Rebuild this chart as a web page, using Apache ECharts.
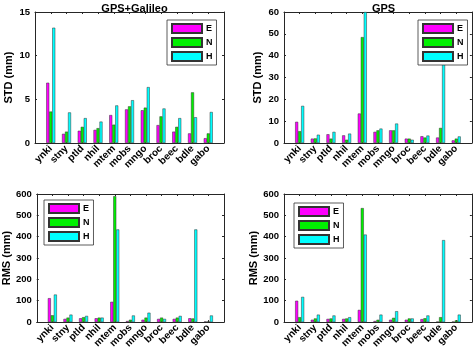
<!DOCTYPE html>
<html>
<head>
<meta charset="utf-8">
<script src="https://cdn.jsdelivr.net/npm/echarts@6/dist/echarts.min.js"></script>
<style>
  html, body { margin: 0; padding: 0; background: #fff; }
  #chart { width: 474px; height: 351px; }
</style>
</head>
<body>
<div id="chart"></div>
<script>
// stations on the x axis (placed at 1..11, axis runs 0..12 like matlab)
const stations = ['ynki', 'stny', 'ptld', 'nhil', 'mtem', 'mobs', 'mngo', 'broc', 'beec', 'bdle', 'gabo'];

// STD (mm), GPS+Galileo
const stdGalE = [6.9, 1.05, 1.4, 1.5, 3.2, 3.85, 3.75, 2.05, 1.3, 1.1, 0.55];
const stdGalN = [3.6, 1.3, 1.85, 1.7, 2.1, 4.2, 4.05, 3.05, 1.85, 5.8, 1.1];
const stdGalH = [13.2, 3.5, 2.85, 2.45, 4.3, 4.9, 6.4, 3.95, 2.85, 2.95, 3.55];

// STD (mm), GPS
const stdGpsE = [9.7, 2.0, 4.0, 3.5, 13.5, 5.1, 5.8, 2.0, 3.1, 2.5, 1.2];
const stdGpsN = [5.4, 2.1, 2.0, 1.5, 48.5, 5.8, 5.8, 2.0, 2.5, 6.9, 2.0];
const stdGpsH = [17.0, 3.8, 5.1, 4.3, 60, 6.6, 8.9, 1.5, 3.4, 45, 3.0];

// RMS (mm), GPS+Galileo
const rmsGalE = [112, 15, 18, 18, 95, 5, 11, 15, 15, 18, 3];
const rmsGalN = [32, 21, 23, 21, 590, 11, 21, 21, 21, 17, 3];
const rmsGalH = [129, 35, 29, 21, 434, 31, 44, 15, 29, 434, 31];

// RMS (mm), GPS
const rmsGpsE = [100, 11, 15, 15, 57, 5, 11, 11, 14, 2, 2];
const rmsGpsN = [23, 17, 17, 17, 534, 11, 20, 17, 18, 23, 8];
const rmsGpsH = [118, 35, 31, 23, 410, 35, 51, 17, 31, 384, 35];

const colors = { E: '#ff00ff', N: '#00f000', H: '#00ffff' };
const font = 'Liberation Sans, Arial, sans-serif';
const axisColor = '#262626';

const panels = [
  { title: 'GPS+Galileo', yName: 'STD (mm)', max: 15, interval: 5, grid: { left: 35, top: 12, width: 189, height: 131 },
    legend: { left: 167, top: 20 }, data: { E: stdGalE, N: stdGalN, H: stdGalH } },
  { title: 'GPS', yName: 'STD (mm)', max: 60, interval: 10, grid: { left: 284, top: 12, width: 189, height: 131 },
    legend: { left: 418, top: 20 }, data: { E: stdGpsE, N: stdGpsN, H: stdGpsH } },
  { title: '', yName: 'RMS (mm)', max: 600, interval: 100, grid: { left: 35, top: 194, width: 189, height: 130 },
    legend: { left: 44, top: 200 }, data: { E: rmsGalE, N: rmsGalN, H: rmsGalH } },
  { title: '', yName: 'RMS (mm)', max: 600, interval: 100, grid: { left: 284, top: 194, width: 189, height: 130 },
    legend: { left: 294, top: 203 }, data: { E: rmsGpsE, N: rmsGpsN, H: rmsGpsH } }
];

const grid = [], xAxis = [], yAxis = [], series = [], title = [], legend = [];

panels.forEach((p, i) => {
  grid.push(p.grid);
  if (p.title) {
    title.push({
      text: p.title,
      left: p.grid.left + p.grid.width / 2,
      top: -2,
      textAlign: 'center',
      textStyle: { fontFamily: font, fontSize: 11, fontWeight: 'bold', color: '#000' }
    });
  }
  // bottom axis with station labels
  xAxis.push({
    type: 'value', gridIndex: i, min: 0, max: stations.length + 1, interval: 1,
    axisLine: { show: true, onZero: false, lineStyle: { color: axisColor } },
    axisTick: { show: true, inside: true, length: 2, lineStyle: { color: axisColor } },
    axisLabel: {
      rotate: 45, margin: 4, fontFamily: font, fontSize: 10, fontWeight: 'bold', color: '#000',
      formatter: v => stations[v - 1] || ''
    },
    splitLine: { show: false }
  });
  // top axis (box)
  xAxis.push({
    type: 'value', gridIndex: i, min: 0, max: stations.length + 1, interval: 1, position: 'top',
    axisLine: { show: true, onZero: false, lineStyle: { color: axisColor } },
    axisTick: { show: true, inside: true, length: 2, lineStyle: { color: axisColor } },
    axisLabel: { show: false },
    splitLine: { show: false }
  });
  yAxis.push({
    type: 'value', gridIndex: i, min: 0, max: p.max, interval: p.interval,
    name: p.yName, nameLocation: 'middle', nameGap: 21,
    nameTextStyle: { fontFamily: font, fontSize: 11, fontWeight: 'bold', color: '#000' },
    axisLine: { show: true, onZero: false, lineStyle: { color: axisColor } },
    axisTick: { show: true, inside: true, length: 2, lineStyle: { color: axisColor } },
    axisLabel: { margin: 5, fontFamily: font, fontSize: 9.5, fontWeight: 'bold', color: '#000' },
    splitLine: { show: false }
  });
  yAxis.push({
    type: 'value', gridIndex: i, min: 0, max: p.max, interval: p.interval, position: 'right',
    axisLine: { show: true, onZero: false, lineStyle: { color: axisColor } },
    axisTick: { show: true, inside: true, length: 2, lineStyle: { color: axisColor } },
    axisLabel: { show: false },
    splitLine: { show: false }
  });
  ['E', 'N', 'H'].forEach(k => {
    series.push({
      name: k, type: 'bar', xAxisIndex: i * 2, yAxisIndex: i * 2,
      data: p.data[k].map((v, j) => [j + 1, v]),
      barWidth: 3, barGap: '0%',
      itemStyle: { color: colors[k], borderColor: '#333', borderWidth: 0.5 },
      silent: true, animation: false
    });
  });
  legend.push({
    data: ['E', 'N', 'H'], orient: 'vertical', left: p.legend.left, top: p.legend.top,
    itemWidth: 30, itemHeight: 9, itemGap: 3, padding: [3, 4, 3, 4],
    backgroundColor: '#fff', borderColor: '#333', borderWidth: 0.8,
    icon: 'rect', selectedMode: false,
    textStyle: { fontFamily: font, fontSize: 9, fontWeight: 'bold', color: '#000', padding: [0, 0, 0, -1] },
    z: 10
  });
});

const chart = echarts.init(document.getElementById('chart'), null, { renderer: 'canvas' });
chart.setOption({
  animation: false,
  backgroundColor: '#fff',
  title, grid, xAxis, yAxis, series, legend
});
</script>
</body>
</html>
